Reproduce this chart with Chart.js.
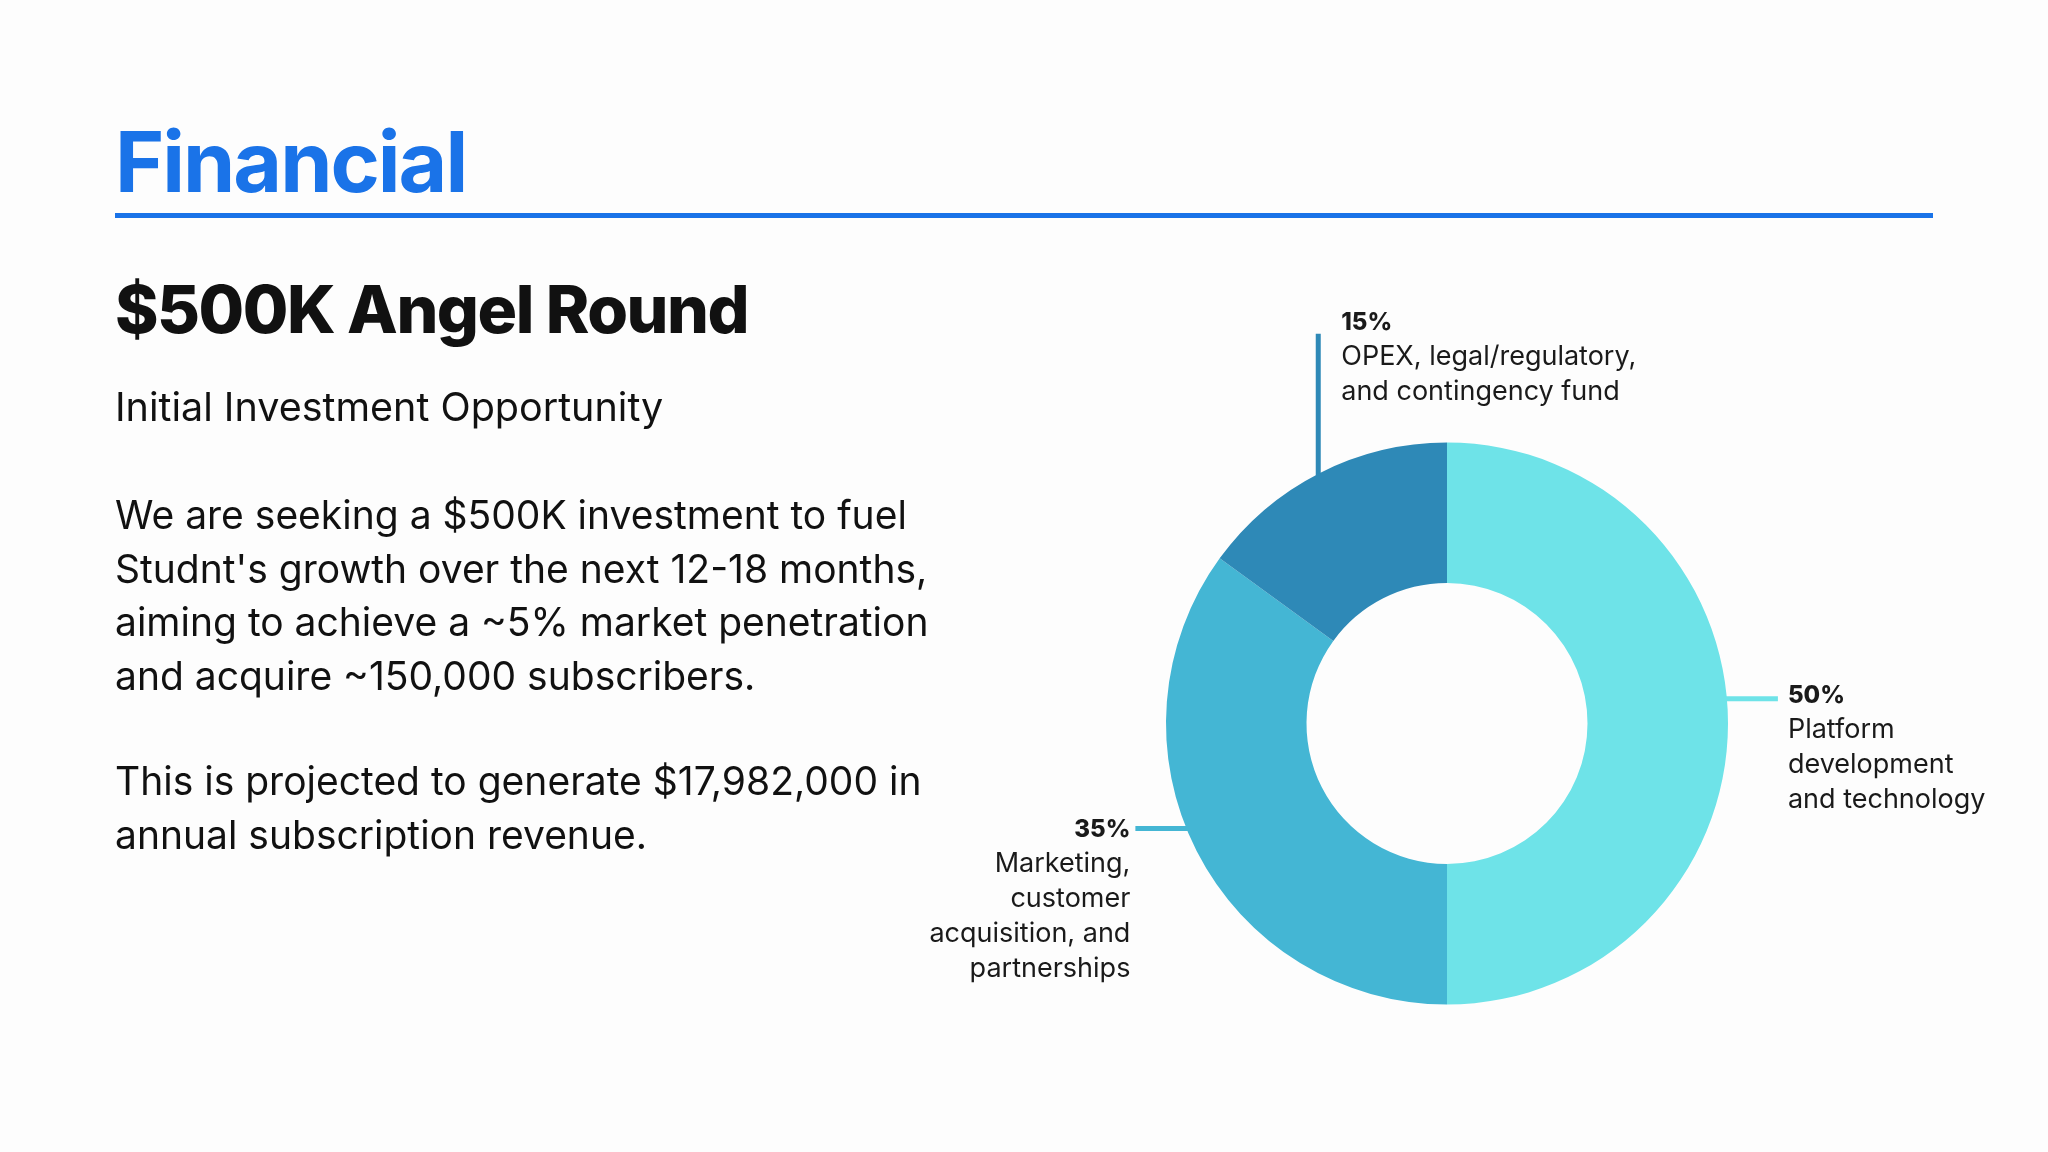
<!DOCTYPE html>
<html>
<head>
<meta charset="utf-8">
<script src="https://cdn.jsdelivr.net/npm/chart.js@4"></script>
<style>
  html, body { margin: 0; padding: 0; }
  body { width: 2048px; height: 1152px; background: #fdfdfd; position: relative; overflow: hidden; font-family: Inter, "Noto Sans", sans-serif; color: #111; }
  #chart { position: absolute; left: 0; top: 0; }
  .t { position: absolute; left: 115px; white-space: nowrap; }
  #title { top: 112px; font-size: 84px; line-height: 100px; font-weight: 700; color: #1a73e8; letter-spacing: -2px; }
  #rule { position: absolute; left: 115px; top: 213px; width: 1818px; height: 5px; background: #1a73e8; }
  #round { top: 269px; font-size: 66px; line-height: 80px; font-weight: 800; letter-spacing: -1.5px; }
  #sub { top: 381px; font-size: 39.5px; line-height: 53.5px; }
  #p1 { top: 488px; font-size: 39px; line-height: 53.5px; }
  #p2 { top: 754px; font-size: 39px; line-height: 53.5px; }
</style>
</head>
<body>
<canvas id="chart" width="2048" height="1152"></canvas>
<div class="t" id="title">Financial</div>
<div id="rule"></div>
<div class="t" id="round">$500K Angel Round</div>
<div class="t" id="sub">Initial Investment Opportunity</div>
<div class="t" id="p1">We are seeking a $500K investment to fuel<br>Studnt's growth over the next 12-18 months,<br>aiming to achieve a ~5% market penetration<br>and acquire ~150,000 subscribers.</div>
<div class="t" id="p2">This is projected to generate $17,982,000 in<br>annual subscription revenue.</div>
<script>
// allocation of the $500K round (clockwise from top)
const categories = [
  ['Platform', 'development', 'and technology'],
  ['Marketing,', 'customer', 'acquisition, and', 'partnerships'],
  ['OPEX, legal/regulatory,', 'and contingency fund']
];
const shares = [50, 35, 15];
const colors = ['#6ee3e8', '#44b6d4', '#2e89b7'];

// leader line for each slice: where on the arc, which way, how long
const leaders = [
  { at: 0.472, dir: 'right', len: 51, dx: 10, dy: 4, align: 'left' },
  { at: 0.54, dir: 'left', len: 51, dx: -5, dy: 8, align: 'right' },
  { at: 0.495, dir: 'up', len: 140, dx: 23, dy: -4, align: 'left' }
];

const leaderPlugin = {
  id: 'leaders',
  afterDatasetsDraw(chart) {
    const ctx = chart.ctx;
    const meta = chart.getDatasetMeta(0);
    meta.data.forEach((arc, i) => {
      const p = arc.getProps(['x', 'y', 'startAngle', 'endAngle', 'outerRadius'], true);
      const L = leaders[i];
      const a = p.startAngle + (p.endAngle - p.startAngle) * L.at;
      const x0 = p.x + Math.cos(a) * p.outerRadius;
      const y0 = p.y + Math.sin(a) * p.outerRadius;
      let x1 = x0, y1 = y0;
      if (L.dir === 'right') x1 = x0 + L.len;
      if (L.dir === 'left') x1 = x0 - L.len;
      if (L.dir === 'up') y1 = y0 - L.len;

      ctx.save();
      ctx.strokeStyle = colors[i];
      ctx.lineWidth = 5;
      ctx.beginPath();
      ctx.moveTo(L.dir === 'up' ? x0 : x0 + (L.dir === 'right' ? -2 : 2), L.dir === 'up' ? y0 + 2 : y0);
      ctx.lineTo(x1, y1);
      ctx.stroke();

      ctx.fillStyle = '#1a1a1a';
      ctx.textAlign = L.align;
      ctx.textBaseline = 'alphabetic';
      const tx = x1 + L.dx;
      let ty = y1 + L.dy;
      ctx.font = '800 24px Inter, "Noto Sans", sans-serif';
      ctx.fillText(shares[i] + '%', tx, ty);
      ctx.font = '400 27px Inter, "Noto Sans", sans-serif';
      categories[i].forEach(line => {
        ty += 35;
        ctx.fillText(line, tx, ty);
      });
      ctx.restore();
    });
  }
};

new Chart(document.getElementById('chart'), {
  type: 'doughnut',
  data: {
    labels: categories.map(c => c.join(' ')),
    datasets: [{
      data: shares,
      backgroundColor: colors,
      borderWidth: 0,
      hoverOffset: 0,
      offset: 0
    }]
  },
  options: {
    responsive: false,
    animation: false,
    cutout: '50%',
    layout: { padding: { left: 1166, right: 320, top: 442.5, bottom: 147.5 } },
    plugins: {
      legend: { display: false },
      tooltip: { enabled: false }
    }
  },
  plugins: [leaderPlugin]
});
</script>
</body>
</html>
